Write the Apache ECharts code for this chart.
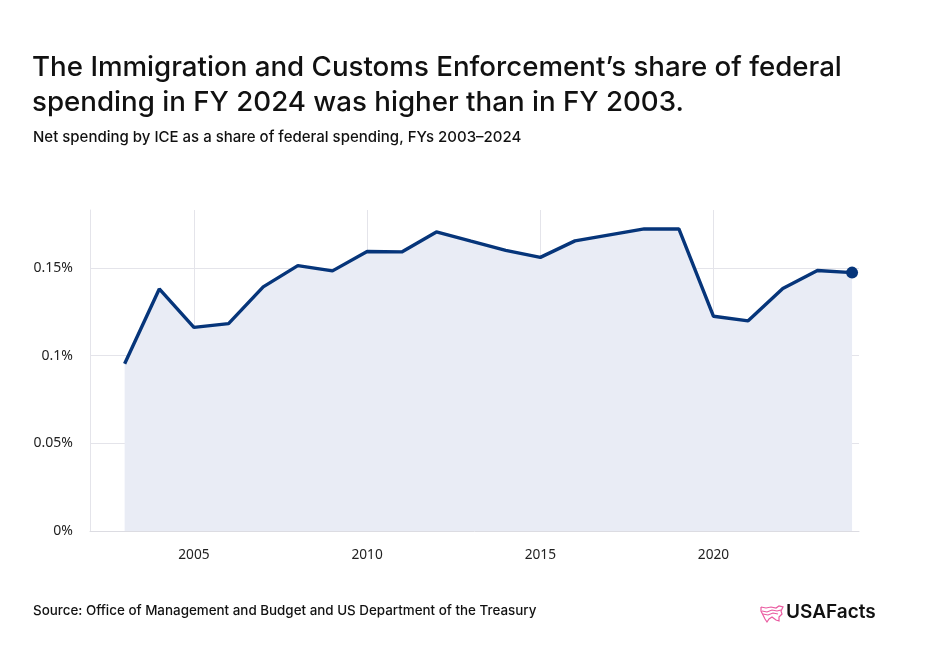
<!DOCTYPE html>
<html>
<head>
    <meta charset="utf-8">
    <title>ICE share of federal spending</title>
    <script src="https://cdn.jsdelivr.net/npm/echarts@6.0.0/dist/echarts.min.js"></script>
    <style>
        html, body { margin: 0; padding: 0; background: #fff; }
    </style>
</head>
<body>
<div id="main" style="width: 929px;height:661px;"></div>
<script type="text/javascript">

    // fiscal years and ICE net spending as % of federal spending
    var years = [2003, 2004, 2005, 2006, 2007, 2008, 2009, 2010, 2011, 2012, 2013,
        2014, 2015, 2016, 2017, 2018, 2019, 2020, 2021, 2022, 2023, 2024];
    var sharePct = [0.0953, 0.1380, 0.1161, 0.1182, 0.1392, 0.1513, 0.1483, 0.1593, 0.1591, 0.1705, 0.1652,
        0.1600, 0.1560, 0.1654, 0.1688, 0.1722, 0.1722, 0.1224, 0.1198, 0.1382, 0.1485, 0.1473];
    var xTicks = [2005, 2010, 2015, 2020];

    var seriesData = [];
    for (var i = 0; i < years.length; i++) {
        seriesData.push([years[i], sharePct[i]]);
    }

    var fontMain = 'Inter, "Noto Sans", sans-serif';
    var myChart = echarts.init(document.getElementById('main'));

    var option = {
        backgroundColor: '#ffffff',
        animation: false,
        title: [{
            text: 'The Immigration and Customs Enforcement\u2019s share of federal\nspending in FY 2024 was higher than in FY 2003.',
            left: 32,
            top: 50,
            padding: 0,
            textStyle: {
                fontFamily: fontMain,
                fontSize: 27.7,
                fontWeight: 500,
                color: '#111111',
                lineHeight: 35
            }
        }, {
            text: 'Net spending by ICE as a share of federal spending, FYs 2003\u20132024',
            left: 33,
            top: 130,
            padding: 0,
            textStyle: {
                fontFamily: fontMain,
                fontSize: 15,
                fontWeight: 500,
                color: '#111111'
            }
        }],
        grid: {
            left: 90,
            right: 70,
            top: 210,
            bottom: 130
        },
        xAxis: {
            type: 'value',
            min: 2002,
            max: 2024.2,
            axisLine: { show: true, lineStyle: { color: '#dcdce2', width: 1 } },
            axisTick: { show: false, customValues: xTicks },
            axisLabel: {
                customValues: xTicks,
                margin: 17,
                fontFamily: '"Noto Sans", sans-serif',
                fontSize: 13.7,
                color: '#222222',
                formatter: function (v) { return String(v); }
            },
            splitLine: { show: true, lineStyle: { color: '#e4e4ea', width: 1 } }
        },
        yAxis: {
            type: 'value',
            min: 0,
            max: 0.183,
            interval: 0.05,
            axisLine: { show: true, lineStyle: { color: '#e4e4ea', width: 1 } },
            axisTick: { show: false },
            axisLabel: {
                showMaxLabel: false,
                margin: 17,
                fontFamily: '"Noto Sans", sans-serif',
                fontSize: 14,
                color: '#222222',
                formatter: function (v) { return v + '%'; }
            },
            splitLine: { show: true, showMaxLine: false, showMinLine: false, lineStyle: { color: '#e4e4ea', width: 1 } }
        },
        series: [{
            type: 'line',
            data: seriesData,
            symbol: 'none',
            lineStyle: { color: '#06357a', width: 3.4 },
            areaStyle: { color: '#e9ecf5', opacity: 1 },
            markPoint: {
                symbol: 'circle',
                symbolSize: 12,
                itemStyle: { color: '#06357a' },
                label: { show: false },
                data: [{ coord: [years[years.length - 1], sharePct[sharePct.length - 1]] }]
            },
            z: 3
        }],
        graphic: [{
            type: 'text',
            left: 33,
            top: 604,
            style: {
                text: 'Source: Office of Management and Budget and US Department of the Treasury',
                font: '500 13.4px Inter, "Noto Sans", sans-serif',
                fill: '#111111'
            }
        }, {
            // logo mark: outline of the US map
            type: 'polyline',
            shape: {
                points: [[761, 607], [766, 608], [771, 607], [776, 608], [779, 606], [783, 607],
                    [781, 611], [782, 614], [779, 617], [779, 621], [776, 620], [772, 617],
                    [769, 619], [767, 622], [765, 619], [763, 615], [761, 611], [761, 607]]
            },
            style: { stroke: '#ea5aa0', fill: null, lineWidth: 1.2 }
        }, {
            type: 'polyline',
            shape: { points: [[762, 611], [767, 612], [772, 610], [777, 611], [781, 610]] },
            style: { stroke: '#ea5aa0', fill: null, lineWidth: 1.1 }
        }, {
            type: 'polyline',
            shape: { points: [[763, 614], [768, 615], [773, 613], [778, 614]] },
            style: { stroke: '#ea5aa0', fill: null, lineWidth: 1.1 }
        }, {
            type: 'text',
            left: 786,
            top: 603,
            style: {
                text: 'USAFacts',
                font: '600 19px Inter, "Noto Sans", sans-serif',
                fill: '#111111'
            }
        }]
    };

    myChart.setOption(option);
</script>
</body>
</html>
